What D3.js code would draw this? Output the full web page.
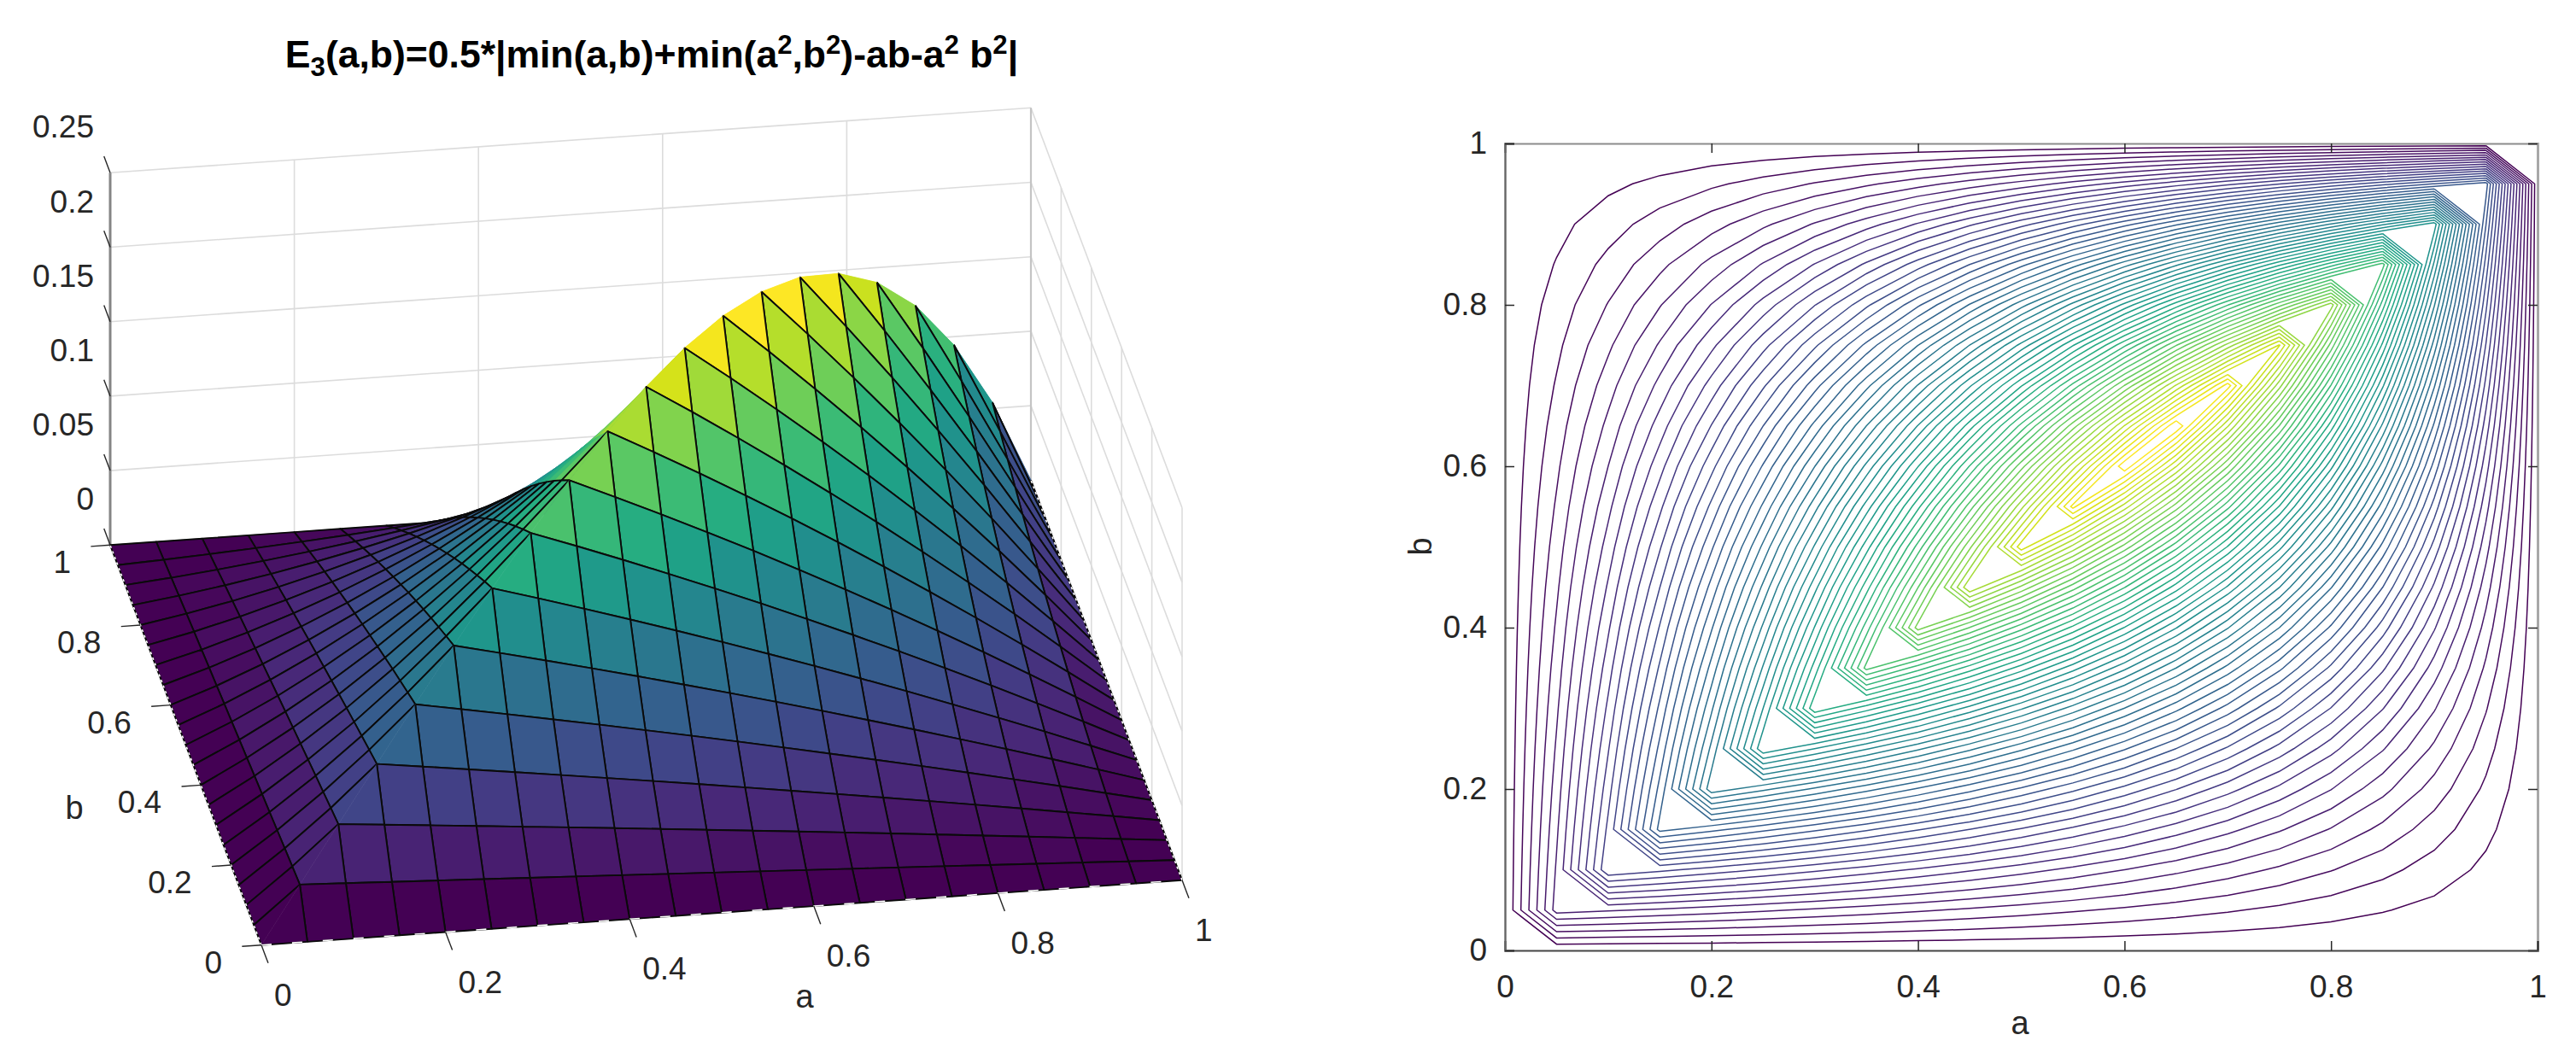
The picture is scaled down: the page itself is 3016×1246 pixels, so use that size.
<!DOCTYPE html>
<html><head><meta charset="utf-8">
<script src="https://cdn.jsdelivr.net/npm/d3@7"></script>
<style>
html,body{margin:0;background:#fff}
svg{display:block;font-family:"Liberation Sans",Arial,sans-serif}
</style></head><body>
<svg id="c" width="3016" height="1246"></svg>
<script>
// ---------- data read for the chart ----------
const gridValues = [0,0.05,0.1,0.15,0.2,0.25,0.3,0.35,0.4,0.45,0.5,0.55,0.6,0.65,0.7,0.75,0.8,0.85,0.9,0.95,1];
const abTicks = [0,0.2,0.4,0.6,0.8,1];
const abTickLabels = ["0","0.2","0.4","0.6","0.8","1"];
const zTicks = [0,0.05,0.1,0.15,0.2,0.25];
const zTickLabels = ["0","0.05","0.1","0.15","0.2","0.25"];
// Upper triangle of the surface: row i holds heights for b index j = i..20 (surface is symmetric in a,b)
const row00=[0,0,0,0,0,0,0,0,0,0,0,0,0,0,0,0,0,0,0,0,0];
const row01=[.025,.02374,.02247,.0212,.01992,.01864,.01735,.01605,.01475,.01344,.01212,.0108,.00947,.00814,.0068,.00545,.0041,.00274,.00137,0];
const row02=[.04995,.04739,.0448,.04219,.03955,.03689,.0342,.03149,.02875,.02599,.0232,.02039,.01755,.01469,.0118,.00889,.00595,.00299,0];
const row03=[.07475,.0708,.0668,.06274,.05862,.05445,.05022,.04594,.0416,.0372,.03275,.02824,.02367,.01905,.01437,.00964,.00485,0];
const row04=[.0992,.09375,.0882,.08255,.0768,.07095,.065,.05895,.0528,.04655,.0402,.03375,.0272,.02055,.0138,.00695,0];
const row05=[.12305,.11594,.10867,.10125,.09367,.08594,.07805,.07,.0618,.05344,.04492,.03625,.02742,.01844,.0093,0];
const row06=[.14595,.13699,.1278,.11839,.10875,.09889,.0888,.07849,.06795,.05719,.0462,.03499,.02355,.01189,0];
const row07=[.1675,.15645,.1451,.13344,.12147,.1092,.09662,.08374,.07055,.05705,.04325,.02914,.01472,0];
const row08=[.1872,.1738,.16,.1458,.1312,.1162,.1008,.085,.0688,.0522,.0352,.0178,0];
const row09=[.2045,.18844,.17187,.1548,.13722,.11914,.10055,.08145,.06185,.04174,.02112,0];
const row10=[.21875,.19969,.18,.15969,.13875,.11719,.095,.07219,.04875,.02469,0];
const row11=[.22925,.2068,.1836,.15964,.13492,.10945,.08322,.05624,.0285,0];
const row12=[.2352,.20895,.1818,.15375,.1248,.09495,.0642,.03255,0];
const row13=[.23575,.20524,.17367,.14105,.10737,.07264,.03685,0];
const row14=[.22995,.19469,.1582,.12049,.08155,.04139,0];
const row15=[.2168,.17625,.1343,.09094,.04617,0];
const row16=[.1952,.1488,.1008,.0512,0];
const row17=[.164,.11114,.05647,0];
const row18=[.12195,.06199,0];
const row19=[.06775,0];
const row20=[0];
const upperRows=[row00,row01,row02,row03,row04,row05,row06,row07,row08,row09,row10,row11,row12,row13,row14,row15,row16,row17,row18,row19,row20];
const contourCount = 60;

// ---------- derived ----------
const n = gridValues.length;
const height = (i,j)=> i<=j ? upperRows[i][j-i] : upperRows[j][i-j];
const zMax = d3.max(upperRows.flat());
const faceColor = v => d3.interpolateViridis(Math.min(63,Math.floor(v/zMax*64))/63);
const svg = d3.select("#c");
const ink = "#262626", FS = 37;

// ---------- left: 3-D surface, oblique view built from linear scales ----------
const aX=d3.scaleLinear([0,1],[306,1384]), aY=d3.scaleLinear([0,1],[1106.7,1030.7]);
const bX=d3.scaleLinear([0,1],[0,-177]),   bY=d3.scaleLinear([0,1],[0,-468.4]);
const zY=d3.scaleLinear([0,0.25],[0,-436]);
const px=(a,b)=>aX(a)+bX(b), py=(a,b,z)=>aY(a)+bY(b)+zY(z);
const P=(a,b,z)=>[px(a,b),py(a,b,z)];
const line3=(p,q)=>"M"+P(...p)+"L"+P(...q);

const g3=svg.append("g");
// back walls
const walls=g3.append("g").attr("fill","none").attr("stroke","#dcdcdc").attr("stroke-width",1.6);
zTicks.forEach(z=>{
  walls.append("path").attr("d",line3([0,1,z],[1,1,z]));
  walls.append("path").attr("d",line3([1,1,z],[1,0,z]));
});
abTicks.forEach(t=>{
  walls.append("path").attr("d",line3([t,1,0],[t,1,0.25]));
  walls.append("path").attr("d",line3([1,t,0],[1,t,0.25]));
});
g3.append("path").attr("d",line3([1,1,0],[1,1,0.25])).attr("stroke","#c4c4c4").attr("stroke-width",2.2);
g3.append("path").attr("d",line3([0,1,0],[0,1,0.25])).attr("stroke","#858585").attr("stroke-width",3);

// faces, listed far to near (viewer is toward -a, -b, +z): a height field painted in
// this grid order needs no further sorting. Diagonal cells fold along the ridge into two.
// Behind the upper ridge (grid index 8 and up) the reference shows no edge lines.
const hiddenBehindRidge = 8;
const faces=[];
const v=(i,j)=>[gridValues[i],gridValues[j],height(i,j)];
for(let j=n-2;j>=0;j--)for(let i=n-2;i>=0;i--){
  const c=height(i,j), p00=v(i,j),p10=v(i+1,j),p11=v(i+1,j+1),p01=v(i,j+1);
  if(i===j){
    faces.push({c,pts:[p00,p01,p11],edges:i>hiddenBehindRidge?[]:[p00,p01,p11]});
    faces.push({c,pts:[p00,p10,p11],edges:[p00,p10,p11]});
  } else {
    faces.push({c,pts:[p00,p10,p11,p01],edges:(j>i&&i>=hiddenBehindRidge)?[]:[p00,p10,p11,p01,p00]});
  }
}
const pathOf=(pts,close)=>pts.length?"M"+pts.map(p=>P(...p).join(",")).join("L")+(close?"Z":""):null;
const fg=g3.selectAll("g.face").data(faces).join("g").attr("class","face");
fg.append("path").attr("d",f=>pathOf(f.pts,true)).attr("fill",f=>faceColor(f.c)).attr("stroke",f=>faceColor(f.c)).attr("stroke-width",0.6);
fg.append("path").attr("d",f=>pathOf(f.edges,false)).attr("fill","none").attr("stroke","#0a0a0a").attr("stroke-width",1.9).attr("stroke-linejoin","round");

// broken, aliased look of the surface's outer edge
const rim=g3.append("g").attr("fill","none").attr("stroke","#fff").attr("stroke-width",1.6);
rim.append("path").attr("d",line3([0,0,0],[0,1,0])).attr("stroke-dasharray","3 4");
rim.append("path").attr("d",line3([1,0,0],[1,1,0])).attr("stroke-dasharray","3 4");
rim.append("path").attr("d",line3([0,0,0],[1,0,0])).attr("stroke-dasharray","12 24");

// 3-D ticks and labels
const t3=g3.append("g").attr("stroke",ink).attr("stroke-width",1.4).attr("fill","none");
const lab3=g3.append("g").attr("fill",ink).attr("font-size",FS);
abTicks.forEach((t,k)=>{
  t3.append("path").attr("d",line3([t,0,0],[t,-0.045,0]));
  lab3.append("text").attr("x",px(t,0)+15).attr("y",py(t,0,0)+71).text(abTickLabels[k]);
  t3.append("path").attr("d",line3([0,t,0],[-0.021,t,0]));
  lab3.append("text").attr("x",px(0,t)-46).attr("y",py(0,t,0)+33).attr("text-anchor","end").text(abTickLabels[k]);
});
zTicks.forEach((z,k)=>{
  t3.append("path").attr("d",line3([0,1,z],[0,1.041,z]));
  lab3.append("text").attr("x",110).attr("y",py(0,1,z)-41).attr("text-anchor","end").text(zTickLabels[k]);
});
lab3.append("text").attr("x",942).attr("y",1180).attr("text-anchor","middle").attr("font-size",FS+1).text("a");
lab3.append("text").attr("x",87).attr("y",959).attr("text-anchor","middle").attr("font-size",FS+1).text("b");

// title
const TS=44.5;
const title=svg.append("text").attr("x",763).attr("y",79).attr("text-anchor","middle").attr("font-size",TS).attr("font-weight","bold").attr("fill","#000");
[["E",0],["3",10,.7],["(a,b)=0.5*|min(a,b)+min(a",-10],["2",-16,.7],[",b",16],["2",-16,.7],[")-ab-a",16],["2",-16,.7],[" b",16],["2",-16,.7],["|",16]]
 .forEach(([s,dy,sc])=>title.append("tspan").attr("dy",dy).attr("font-size",sc?TS*sc:TS).text(s));

// ---------- right: contour plot ----------
const x=d3.scaleLinear([0,1],[1762,2971]), y=d3.scaleLinear([0,1],[1113,168]);
// The heights are negated before tracing so that saddle cells keep the ridge's high corners joined.
const flat=[];
for(let j=0;j<n;j++)for(let i=0;i<n;i++)flat.push(-height(i,j));
const levels=d3.range(1,contourCount+1).map(k=>k*zMax/(contourCount+1));
const contours=d3.contours().size([n,n]).thresholds(levels.map(l=>-l))(flat);
const toData=d3.scaleLinear([0.5,n-0.5],[0,1]);
const proj=d3.geoTransform({point(px_,py_){this.stream.point(x(toData(px_)),y(toData(py_)));}});
const gp=d3.geoPath(proj);
const levelColor=d3.scaleLinear([levels[0],levels[levels.length-1]],[0,1]);
// keep only rings inside the grid: the outer frame of each traced region is not an isoline
const isoLines=contours.map(c=>({
  level:-c.value,
  coordinates:c.coordinates.flat().filter(r=>d3.min(r,p=>p[0])>0.5&&d3.min(r,p=>p[1])>0.5&&d3.max(r,p=>p[0])<n-0.5&&d3.max(r,p=>p[1])<n-0.5)
})).sort((p,q)=>p.level-q.level);
svg.append("g").attr("fill","none").attr("stroke-width",1.5).attr("stroke-linejoin","miter")
  .selectAll("path").data(isoLines).join("path")
  .attr("d",d=>gp({type:"MultiLineString",coordinates:d.coordinates})).attr("stroke",d=>d3.interpolateViridis(levelColor(d.level)));

const fmt=d=>abTickLabels[abTicks.indexOf(d)];
function styleAxis(sel,dom,w){
  sel.select(".domain").attr("stroke",dom).attr("stroke-width",w);
  sel.selectAll(".tick line").attr("stroke",ink).attr("stroke-width",1.5);
  sel.selectAll(".tick text").attr("fill",ink).attr("font-size",FS).attr("font-family","Liberation Sans");
}
svg.append("g").attr("transform","translate(0,168)").call(d3.axisTop(x).tickValues(abTicks).tickSize(-11).tickFormat("")).call(styleAxis,"#8c8c8c",2);
svg.append("g").attr("transform","translate(2971,0)").call(d3.axisRight(y).tickValues(abTicks).tickSize(-11).tickFormat("")).call(styleAxis,"#a8a8a8",3);
svg.append("g").attr("transform","translate(0,1113)").call(d3.axisBottom(x).tickValues(abTicks).tickSize(-11).tickPadding(29).tickFormat(fmt)).call(styleAxis,"#444",2);
svg.append("g").attr("transform","translate(1762,0)").call(d3.axisLeft(y).tickValues(abTicks).tickSize(-11).tickPadding(21).tickFormat(fmt)).call(styleAxis,"#666",2.4);
svg.append("text").attr("x",2365).attr("y",1211).attr("text-anchor","middle").attr("font-size",FS+1).attr("fill",ink).text("a");
svg.append("text").attr("transform","translate(1676,640) rotate(-90)").attr("text-anchor","middle").attr("font-size",FS+1).attr("fill",ink).text("b");
</script></body></html>
